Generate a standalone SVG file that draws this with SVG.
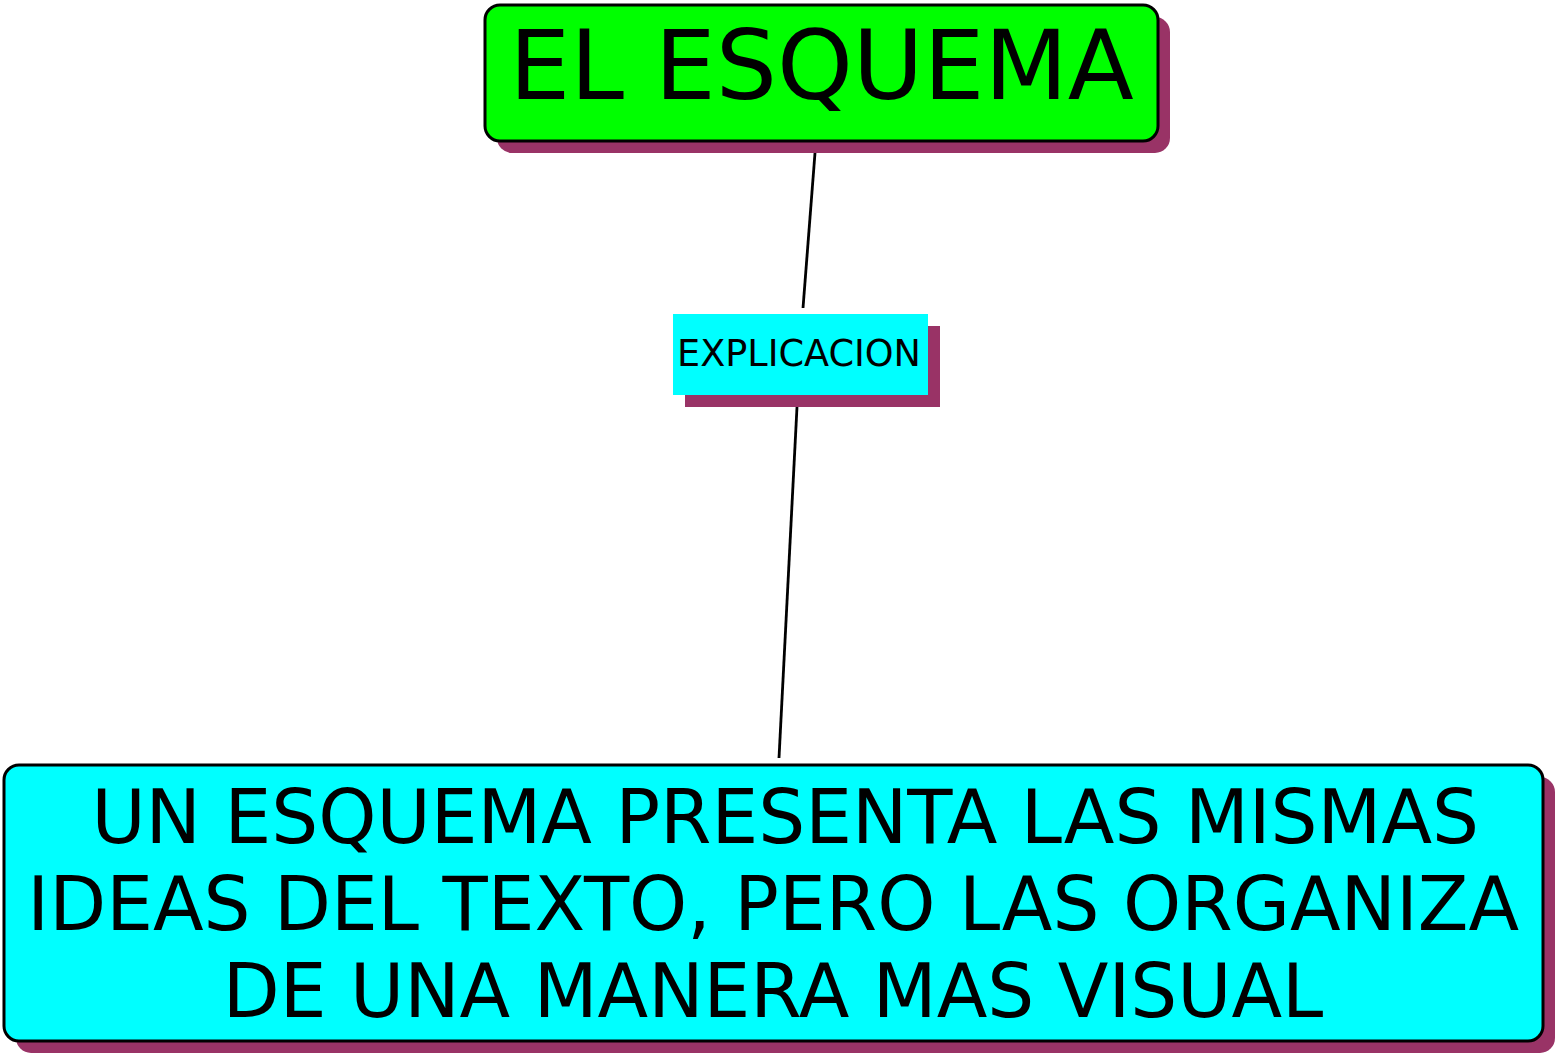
<svg xmlns="http://www.w3.org/2000/svg" width="1562" height="1060" viewBox="0 0 1562 1060">
<style>
.shadow{fill:#993366}
.box{stroke:#000;stroke-width:3}
.t{font-family:"DejaVu Sans","Verdana",sans-serif;fill:#000;text-anchor:middle}
.conn{stroke:#000;stroke-width:2.8;fill:none}
</style>
<rect width="1562" height="1060" fill="#fff"/>
<g id="connectors">
<line class="conn" x1="815" y1="153" x2="803" y2="308"/>
<line class="conn" x1="797" y1="407" x2="779" y2="758"/>
</g>
<g id="node-el-esquema">
<rect class="shadow" x="497" y="17" width="673" height="136" rx="15"/>
<rect class="box" x="485" y="5" width="673" height="136" rx="15" fill="#00ff00"/>
<text class="t" x="821.5" y="99" font-size="96.5">EL ESQUEMA</text>
</g>
<g id="node-explicacion">
<rect class="shadow" x="685" y="326" width="255" height="81"/>
<rect x="673" y="314" width="255" height="81" fill="#00ffff"/>
<text class="t" x="799" y="366" font-size="36.6">EXPLICACION</text>
</g>
<g id="node-definicion">
<rect class="shadow" x="16" y="777" width="1539" height="276" rx="15"/>
<rect class="box" x="4" y="765" width="1539" height="276" rx="15" fill="#00ffff"/>
<text class="t" font-size="74">
<tspan x="797" y="843">UN ESQUEMA PRESENTA LAS MISMAS</tspan>
<tspan x="785" y="930">IDEAS DEL TEXTO, PERO LAS ORGANIZA</tspan>
<tspan x="773" y="1017">DE UNA MANERA MAS VISUAL</tspan>
</text>
</g>
</svg>
